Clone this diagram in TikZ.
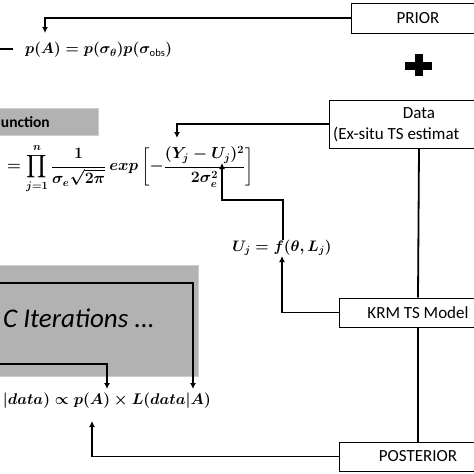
\documentclass[tikz,border=0pt]{standalone}
\usepackage{amsmath}
\usepackage{graphicx}
\usepackage{fontspec}
\setmainfont{Carlito}
\usetikzlibrary{arrows.meta,calc}
\begin{document}
\begin{tikzpicture}[x=1pt,y=-1pt,
  box/.style={draw=black,line width=1pt,fill=white,inner sep=0pt,font=\fontsize{17}{20}\selectfont},
  btext/.style={inner sep=0pt,font=\fontsize{17}{20}\selectfont},
  conn/.style={line width=1.8pt},
  arr/.style={conn,-{Latex[length=6pt,width=6pt]}},
  grayfill/.style={fill=black!30,draw=black!20,line width=1pt},
  eq/.style={inner sep=0pt,font=\fontsize{17.28}{20}\selectfont\boldmath}]
\useasboundingbox (0,0) rectangle (474,474);
\fill[white] (0,0) rectangle (474,474);
% gray panels
\path[grayfill] (-20,108) rectangle (98,135);
\node[anchor=east,inner sep=0pt,font=\bfseries\fontsize{15.5}{18}\selectfont] (lflabel) at (50,122) {unction};
\path[grayfill] (-20,265) rectangle (198,376);
\node[anchor=base east,inner sep=0pt,font=\itshape\fontsize{27}{30}\selectfont] (mcmc) at (155,327) {C Iterations ...};
% boxes
\node[box,minimum width=134pt,minimum height=30pt] (prior) at (418,18) {PRIOR};
\node[box,minimum width=180pt,minimum height=48pt] (data) at (419,124) {};
\node[btext] (datat) at (419,113) {Data};
\node[btext,anchor=west] (datas) at (333,134) {(Ex-situ TS estimat};
\node[box,minimum width=158pt,minimum height=29pt] (krm) at (418,312.5) {KRM TS Model};
\node[box,minimum width=158pt,minimum height=29pt] (post) at (418,456.5) {POSTERIOR};
% plus
\fill (414.5,54) rectangle (422.5,76);
\fill (405,61.5) rectangle (432,69.5);
% formulas
\node[eq,anchor=west] (pA) at (25,50) {\scalebox{0.88}{$p(A)=p(\sigma_\theta)p(\sigma_{\text{obs}})$}};
\node[eq,anchor=west] (lik) at (7,169) {\scalebox{0.92}{$\displaystyle =\prod_{j=1}^{n}\frac{1}{\sigma_e\sqrt{2\pi}}\,exp\left[-\frac{(Y_j-U_j)^2}{2\sigma_e^2}\right]$}};
\node[eq] (U) at (282,248) {\scalebox{0.88}{$U_j=f(\theta,L_j)$}};
\node[eq,anchor=east] (postf) at (211,401) {\scalebox{0.895}{$|data)\propto p(A)\times L(data|A)$}};
% coordinates
\coordinate (pAin) at (45,33);
\coordinate (likin) at (177,138);
\coordinate (likin2) at (222,163);
\coordinate (ubend) at (283,200);
\coordinate (postin) at (92,421);
\coordinate (m1) at (-5,283);
\coordinate (m2) at (-5,364);
\coordinate (t1) at (107,389);
\coordinate (t2) at (193,389);
\coordinate (d0) at (0,49);
\coordinate (d1) at (13,49);
% connectors
\draw[conn] (d0) -- (d1);
\draw[arr] (prior.west) -| (pAin);
\draw[arr] (data.west) -| (likin);
\draw[arr] (U.north -| ubend) -- (ubend) -| (likin2);
\draw[arr] (krm.west) -| (U.south);
\draw[conn] (data.south) -- (krm.north);
\draw[conn] (krm.south) -- (post.north);
\draw[arr] (post.west) -| (postin);
\draw[arr] (m1) -| (t2);
\draw[arr] (m2) -| (t1);
\end{tikzpicture}
\end{document}
